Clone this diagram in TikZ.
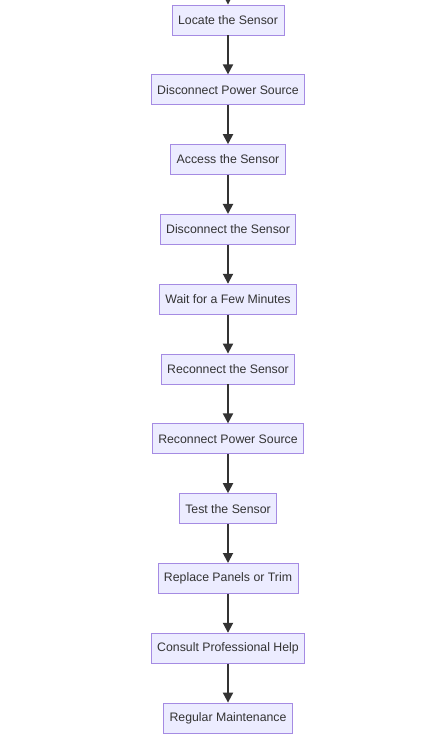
\documentclass[tikz,border=0pt]{standalone}
\usepackage{fontspec}
\setmainfont{Liberation Sans}
\usetikzlibrary{positioning, arrows.meta}
\definecolor{boxfill}{HTML}{ECECFF}
\definecolor{boxline}{HTML}{A58BE3}
\definecolor{flowline}{HTML}{333333}

\begin{document}
\begin{tikzpicture}[x=1pt, y=1pt,
        stepbox/.style={draw=boxline, fill=boxfill, line width=0.8pt, minimum height=30pt,
          inner xsep=6pt, font=\fontsize{12.3}{14}\selectfont, text=flowline},
        flow/.style={draw=flowline, line width=1.9pt, -{Triangle[length=10pt, width=10pt]}},
        node distance=39pt]
        \useasboundingbox (0,0) rectangle (447,-751);
        \coordinate (start) at (228,12);
        \node[stepbox] (locate) at (228,-20) {Locate the Sensor};
        \node[stepbox, below=of locate] (disconpower) {Disconnect Power Source};
        \node[stepbox, below=of disconpower] (access) {Access the Sensor};
        \node[stepbox, below=of access] (disconsensor) {Disconnect the Sensor};
        \node[stepbox, below=of disconsensor] (wait) {Wait for a Few Minutes};
        \node[stepbox, below=of wait] (reconsensor) {Reconnect the Sensor};
        \node[stepbox, below=of reconsensor] (reconpower) {Reconnect Power Source};
        \node[stepbox, below=of reconpower] (test) {Test the Sensor};
        \node[stepbox, below=of test] (replace) {Replace Panels or Trim};
        \node[stepbox, below=of replace] (consult) {Consult Professional Help};
        \node[stepbox, below=of consult] (regular) {Regular Maintenance};
        % connectors
        \draw[flow] (start) -- (locate);
        \draw[flow] (locate) -- (disconpower);
        \draw[flow] (disconpower) -- (access);
        \draw[flow] (access) -- (disconsensor);
        \draw[flow] (disconsensor) -- (wait);
        \draw[flow] (wait) -- (reconsensor);
        \draw[flow] (reconsensor) -- (reconpower);
        \draw[flow] (reconpower) -- (test);
        \draw[flow] (test) -- (replace);
        \draw[flow] (replace) -- (consult);
        \draw[flow] (consult) -- (regular);
      \end{tikzpicture}
\end{document}
